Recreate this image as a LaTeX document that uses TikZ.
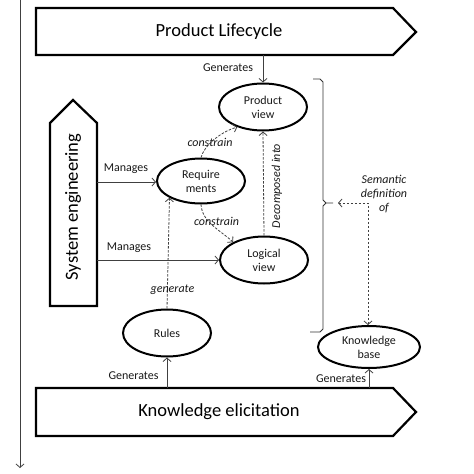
\documentclass[tikz,border=0pt]{standalone}
\usepackage{fontspec}
\setmainfont{Carlito}
\usetikzlibrary{shapes.geometric,arrows.meta}
\begin{document}
\begin{tikzpicture}[x=1pt,y=-1pt,
  oval/.style={ellipse,draw,line width=2pt,inner sep=0pt,minimum width=88pt,minimum height=47pt,align=center,font=\fontsize{12}{14}\selectfont,text=black!90},
  lbl/.style={font=\fontsize{12}{14}\selectfont,text=black!90,inner sep=0pt},
  ilbl/.style={lbl,font=\fontsize{12}{14}\selectfont\itshape},
  bigtext/.style={font=\fontsize{18.5}{22}\selectfont,inner sep=0pt},
  bigshape/.style={line width=2.2pt},
  conn/.style={draw=black!75,line width=0.8pt,-{Straight Barb[length=3.5pt,width=8pt]}},
  dconn/.style={conn,dash pattern=on 2.5pt off 1.5pt}
]
\fill[white] (0,0) rectangle (474,474);
\useasboundingbox (0,0) rectangle (474,474);

% timeline
\coordinate (tl0) at (20,0);
\coordinate (tl1) at (20,468);
\draw[conn] (tl0) -- (tl1);

% Product Lifecycle
\draw[bigshape] (36,8) -- (393,8) -- (416,32) -- (393,55) -- (36,55) -- cycle;
\node[bigtext] (pl) at (219,32) {Product Lifecycle};
\coordinate (plb) at (263,55);

% Knowledge elicitation
\draw[bigshape] (36,388) -- (393,388) -- (416,412) -- (393,436) -- (36,436) -- cycle;
\node[bigtext] (ke) at (219,412) {Knowledge elicitation};
\coordinate (ket1) at (167,388);
\coordinate (ket2) at (369,388);

% System engineering
\draw[bigshape] (50,306) -- (50,123) -- (73,100) -- (97,123) -- (97,306) -- cycle;
\node[bigtext,rotate=90] (se) at (73,207) {System engineering};
\coordinate (ser1) at (97,182);
\coordinate (ser2) at (97,260);

% ellipses
\node[oval] (pv) at (263,107) {Product\\view};
\node[oval,minimum height=45pt] (req) at (201,181) {Require\\ments};
\node[oval] (lv) at (264,260) {Logical\\view};
\node[oval] (rules) at (167,333) {Rules};
\node[oval,minimum width=102pt,minimum height=42pt] (kb) at (369,347) {Knowledge\\base};

% solid connectors
\draw[conn] (plb) -- (plb |- pv.north);
\node[lbl] (g1) at (228,68) {Generates};
\draw[conn] (ser1) -- (ser1 -| req.west);
\node[lbl] (m1) at (126,169) {Manages};
\draw[conn] (ser2) -- (ser2 -| lv.west);
\node[lbl] (m2) at (129,248) {Manages};
\draw[conn] (ket1) -- (ket1 |- rules.south);
\node[lbl] (g2) at (133.5,376) {Generates};
\draw[conn] (ket2) -- (ket2 |- kb.south);
\node[lbl] (g3) at (341,379) {Generates};

% dashed connectors
\draw[dconn] (req.north) .. controls (204,146) and (220,132) .. (pv.218);
\node[ilbl] (c1) at (210,142) {constrain};
\draw[dconn] (req.south) .. controls (202,222) and (220,230) .. (lv.150);
\node[ilbl] (c2) at (216.5,221) {constrain};
\draw[dconn] (lv.north) -- (pv.south);
\node[ilbl,rotate=90] (dec) at (277,186) {Decomposed into};
\draw[dconn] (rules.north) -- (req.208);
\node[ilbl] (gen) at (172.5,290) {generate};

% brace
\draw[line width=0.9pt,draw=black!80] (313,79) -- (320,79) -- (323,82) -- (323,200) -- (326,203) -- (333,203)
  (326,203) -- (323,206) -- (323,329) -- (320,332) -- (310,332);
\coordinate (brt) at (338,203);
\coordinate (sdc) at (368,203);
\draw[dconn,{Straight Barb[length=3.5pt,width=8pt]}-{Straight Barb[length=3.5pt,width=8pt]}] (brt) -- (sdc) -- (sdc |- kb.north);
\node[ilbl,align=center] (sem) at (384,194) {Semantic\\definition\\of};
\end{tikzpicture}
\end{document}
